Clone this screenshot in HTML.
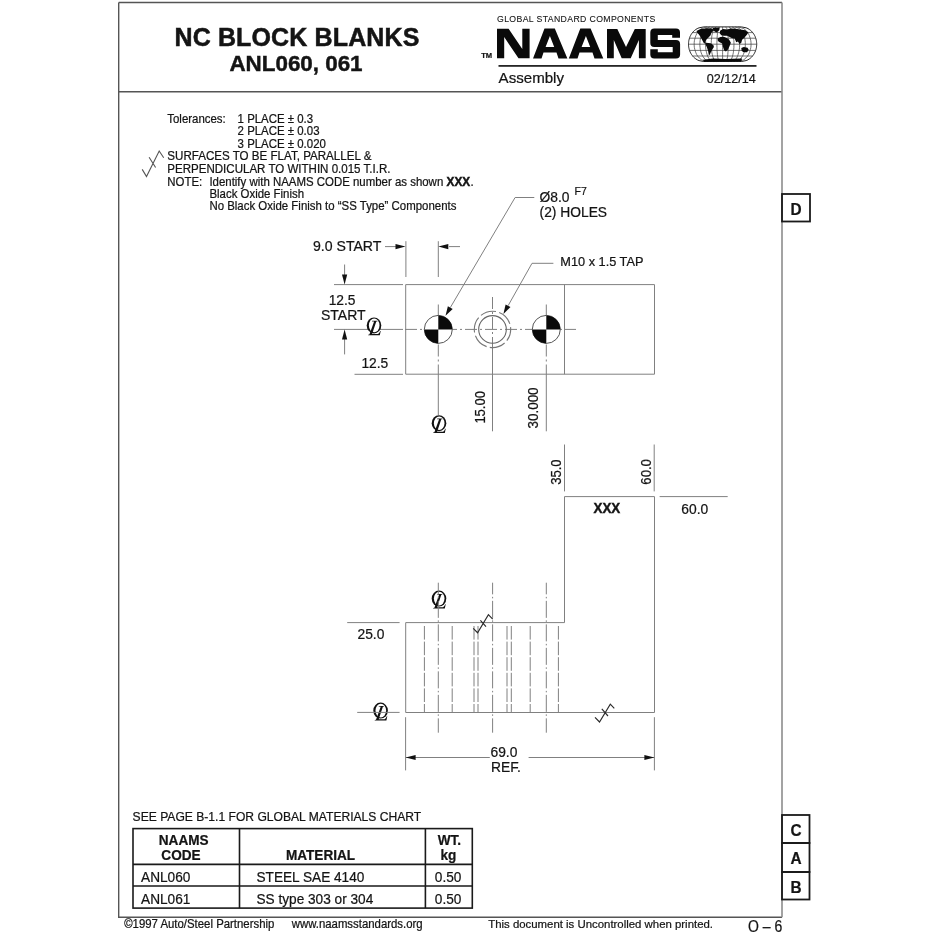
<!DOCTYPE html>
<html><head><meta charset="utf-8">
<style>
html,body{margin:0;padding:0;background:#fff;}
body{width:940px;height:940px;overflow:hidden;}
svg{display:block;will-change:transform;}
text{font-family:"Liberation Sans",sans-serif;fill:#141414;stroke:#141414;stroke-width:0.22px;}
.b{font-weight:bold;}
.ln{stroke:#808080;stroke-width:1;fill:none;}
.fr{stroke:#555;stroke-width:1.4;fill:none;}
.bx{stroke:#1a1a1a;stroke-width:1.8;fill:none;}
.hid{stroke:#808080;stroke-width:1;fill:none;stroke-dasharray:13.6 2;stroke-dashoffset:0;}
.cl{stroke:#808080;stroke-width:1;fill:none;stroke-dasharray:17 2.5 1.5 2.5;stroke-dashoffset:5.35;}
.ser{font-family:"Liberation Serif",serif;font-style:italic;}
</style></head>
<body>
<svg width="940" height="940" viewBox="0 0 940 940">
<!-- frame -->
<path class="fr" d="M118.7,2.5 H782 M118.7,2.5 V917.3 H782 M118.7,91.8 H782"/>
<path d="M782,2.5 V917.3" stroke="#8c8c8c" stroke-width="1.6" fill="none"/>

<!-- title -->
<text class="b" font-size="25" letter-spacing="0.15" text-anchor="middle" style="stroke-width:0.5px" transform="matrix(1 0 0 1.03 297 46.3)">NC BLOCK BLANKS</text>
<text class="b" font-size="22.4" text-anchor="middle" style="stroke-width:0.45px" transform="matrix(1 0 0 1.02 296 70.5)">ANL060, 061</text>

<!-- logo -->
<text x="497" y="22" font-size="8.7" letter-spacing="0.38" style="stroke-width:0.1px">GLOBAL STANDARD COMPONENTS</text>
<g fill="#0a0a0a">
<path d="M497,28.8 H508.6 L522.3,49.1 V28.8 H529.6 V58.3 H518.5 L504.2,37.1 V58.3 H497 Z"/>
<path fill-rule="evenodd" d="M533,58.4 L544.5,28.6 H554.8 L567.4,58.4 H558.5 L556.5,52.6 H543.5 L541.5,58.4 Z M549.9,36 L545.6,47 H554.2 Z"/>
<path fill-rule="evenodd" d="M568.8,58.4 L580.3,28.6 H590.6 L603.3,58.4 H594.5 L592.5,52.6 H579.5 L577.5,58.4 Z M585.9,36 L581.6,47 H590.2 Z"/>
<path d="M607,29 H617.3 L626,47 L634.8,29 H645.7 V58.2 H638.9 V40 L630.7,58.2 H621.7 L613.8,40 V58.2 H607 Z"/>
<path d="M654.5,28.6 H676 Q680,28.6 680,32.6 V37.8 H672.2 V35 H657.8 V39.9 H676 Q680.1,39.9 680.1,44 V54.6 Q680.1,58.6 676,58.6 H654.3 Q650.3,58.6 650.3,54.6 V49.3 H657.8 V52.2 H672.7 V47.1 H654.3 Q650.3,47.1 650.3,43 V32.6 Q650.3,28.6 654.3,28.6 Z"/>
</g>
<text class="b" font-size="7.6" transform="matrix(1 0 0 1.05 481.2 57.9)">TM</text>
<rect x="498.5" y="65" width="258" height="1.8" fill="#262626"/>
<!-- globe -->
<g id="globe">
<path d="M741.4,26.9 L746.1,27.8 L748.0,28.6 L749.4,29.5 L750.6,30.4 L751.5,31.2 L752.3,32.1 L753.0,33.0 L753.6,33.8 L754.2,34.7 L754.6,35.5 L755.1,36.4 L755.4,37.3 L755.7,38.1 L756.0,39.0 L756.2,39.9 L756.4,40.7 L756.5,41.6 L756.6,42.5 L756.7,43.3 L756.7,44.2 L756.7,45.1 L756.6,45.9 L756.5,46.8 L756.4,47.7 L756.2,48.5 L756.0,49.4 L755.7,50.3 L755.4,51.1 L755.1,52.0 L754.6,52.8 L754.2,53.7 L753.6,54.6 L753.0,55.4 L752.3,56.3 L751.5,57.2 L750.6,58.0 L749.4,58.9 L748.0,59.8 L746.1,60.6 L741.4,61.5 L703.8,61.5 L699.1,60.6 L697.2,59.8 L695.8,58.9 L694.6,58.0 L693.7,57.2 L692.9,56.3 L692.2,55.4 L691.6,54.6 L691.0,53.7 L690.6,52.9 L690.1,52.0 L689.8,51.1 L689.5,50.3 L689.2,49.4 L689.0,48.5 L688.8,47.7 L688.7,46.8 L688.6,45.9 L688.5,45.1 L688.5,44.2 L688.5,43.3 L688.6,42.5 L688.7,41.6 L688.8,40.7 L689.0,39.9 L689.2,39.0 L689.5,38.1 L689.8,37.3 L690.1,36.4 L690.6,35.5 L691.0,34.7 L691.6,33.8 L692.2,33.0 L692.9,32.1 L693.7,31.2 L694.6,30.4 L695.8,29.5 L697.2,28.6 L699.1,27.8 L703.8,26.9 Z" fill="#fff" stroke="#222" stroke-width="1"/>
<path d="M692.5,32.6 H752.7 M689.5,38.2 H755.7 M688.5,44.2 H756.7 M689.5,50.4 H755.7 M692.6,56.0 H752.6 M707.0,26.9 L701.4,28.6 L699.3,30.4 L697.8,32.1 L696.7,33.8 L695.9,35.5 L695.3,37.3 L694.8,39.0 L694.4,40.7 L694.2,42.5 L694.2,44.2 L694.2,45.9 L694.4,47.7 L694.8,49.4 L695.3,51.1 L695.9,52.8 L696.7,54.6 L697.8,56.3 L699.3,58.0 L701.4,59.8 L707.0,61.5 M710.1,26.9 L705.6,28.6 L704.0,30.4 L702.8,32.1 L701.9,33.8 L701.2,35.5 L700.7,37.3 L700.3,39.0 L700.1,40.7 L699.9,42.5 L699.9,44.2 L699.9,45.9 L700.1,47.7 L700.3,49.4 L700.7,51.1 L701.2,52.8 L701.9,54.6 L702.8,56.3 L704.0,58.0 L705.6,59.8 L710.1,61.5 M713.2,26.9 L709.9,28.6 L708.6,30.4 L707.7,32.1 L707.1,33.8 L706.6,35.5 L706.2,37.3 L705.9,39.0 L705.7,40.7 L705.6,42.5 L705.6,44.2 L705.6,45.9 L705.7,47.7 L705.9,49.4 L706.2,51.1 L706.6,52.8 L707.1,54.6 L707.7,56.3 L708.6,58.0 L709.9,59.8 L713.2,61.5 M716.3,26.9 L714.1,28.6 L713.3,30.4 L712.7,32.1 L712.3,33.8 L711.9,35.5 L711.7,37.3 L711.5,39.0 L711.3,40.7 L711.3,42.5 L711.2,44.2 L711.3,45.9 L711.3,47.7 L711.5,49.4 L711.7,51.1 L711.9,52.8 L712.3,54.6 L712.7,56.3 L713.3,58.0 L714.1,59.8 L716.3,61.5 M719.5,26.9 L718.4,28.6 L717.9,30.4 L717.6,32.1 L717.4,33.8 L717.3,35.5 L717.1,37.3 L717.0,39.0 L717.0,40.7 L716.9,42.5 L716.9,44.2 L716.9,45.9 L717.0,47.7 L717.0,49.4 L717.1,51.1 L717.3,52.8 L717.4,54.6 L717.6,56.3 L717.9,58.0 L718.4,59.8 L719.5,61.5 M722.6,26.9 L722.6,28.6 L722.6,30.4 L722.6,32.1 L722.6,33.8 L722.6,35.5 L722.6,37.3 L722.6,39.0 L722.6,40.7 L722.6,42.5 L722.6,44.2 L722.6,45.9 L722.6,47.7 L722.6,49.4 L722.6,51.1 L722.6,52.8 L722.6,54.6 L722.6,56.3 L722.6,58.0 L722.6,59.8 L722.6,61.5 M725.7,26.9 L726.8,28.6 L727.3,30.4 L727.6,32.1 L727.8,33.8 L727.9,35.5 L728.1,37.3 L728.2,39.0 L728.2,40.7 L728.3,42.5 L728.3,44.2 L728.3,45.9 L728.2,47.7 L728.2,49.4 L728.1,51.1 L727.9,52.8 L727.8,54.6 L727.6,56.3 L727.3,58.0 L726.8,59.8 L725.7,61.5 M728.9,26.9 L731.1,28.6 L731.9,30.4 L732.5,32.1 L732.9,33.8 L733.3,35.5 L733.5,37.3 L733.7,39.0 L733.9,40.7 L733.9,42.5 L734.0,44.2 L733.9,45.9 L733.9,47.7 L733.7,49.4 L733.5,51.1 L733.3,52.8 L732.9,54.6 L732.5,56.3 L731.9,58.0 L731.1,59.8 L728.9,61.5 M732.0,26.9 L735.3,28.6 L736.6,30.4 L737.5,32.1 L738.1,33.8 L738.6,35.5 L739.0,37.3 L739.3,39.0 L739.5,40.7 L739.6,42.5 L739.6,44.2 L739.6,45.9 L739.5,47.7 L739.3,49.4 L739.0,51.1 L738.6,52.8 L738.1,54.6 L737.5,56.3 L736.6,58.0 L735.3,59.8 L732.0,61.5 M735.1,26.9 L739.6,28.6 L741.2,30.4 L742.4,32.1 L743.3,33.8 L744.0,35.5 L744.5,37.3 L744.9,39.0 L745.1,40.7 L745.3,42.5 L745.3,44.2 L745.3,45.9 L745.1,47.7 L744.9,49.4 L744.5,51.1 L744.0,52.8 L743.3,54.6 L742.4,56.3 L741.2,58.0 L739.6,59.8 L735.1,61.5 M738.2,26.9 L743.8,28.6 L745.9,30.4 L747.4,32.1 L748.5,33.8 L749.3,35.5 L749.9,37.3 L750.4,39.0 L750.8,40.7 L751.0,42.5 L751.0,44.2 L751.0,45.9 L750.8,47.7 L750.4,49.4 L749.9,51.1 L749.3,52.8 L748.5,54.6 L747.4,56.3 L745.9,58.0 L743.8,59.8 L738.2,61.5" fill="none" stroke="#444" stroke-width="0.75"/>
<path d="M696.4,31.1 L700.6,29.1 L707.2,28.2 L712.2,28.6 L713.9,30.3 L711.4,32.8 L710.6,35.3 L708.5,37.4 L706.4,39.4 L705.2,41.9 L706.4,43.7 L703.9,43.2 L702.3,40.3 L700.6,36.9 L698.9,34.4 L697.3,32.8 Z M712.6,27.8 L719.7,27.4 L719.3,30.3 L716.4,32.4 L713.9,31.1 Z M706.0,42.7 L710.6,43.2 L713.5,45.2 L713.9,46.9 L711.4,51.0 L709.7,54.8 L708.9,55.2 L708.1,51.0 L706.8,46.9 L705.6,44.8 Z M720.1,30.7 L723.0,29.1 L727.2,29.5 L730.5,28.5 L735.5,28.8 L740.4,29.5 L745.4,30.3 L748.3,32.4 L747.1,34.4 L745.4,36.5 L743.8,38.2 L742.1,39.8 L741.3,42.7 L739.6,44.0 L737.9,41.5 L736.3,42.3 L734.6,38.6 L732.1,38.2 L729.6,36.9 L727.2,35.7 L723.8,35.7 L721.3,35.3 L719.7,33.2 Z M717.6,38.6 L720.5,36.9 L723.8,36.8 L727.2,38.2 L729.2,39.8 L730.9,42.7 L729.6,46.1 L728.0,49.4 L725.9,51.5 L724.2,50.6 L723.0,46.9 L722.2,43.6 L719.7,42.3 L717.9,41.1 Z M741.3,48.1 L743.8,46.9 L747.5,47.7 L748.7,49.8 L747.1,52.3 L743.8,52.3 L741.7,51.0 Z M703.1,59.8 L713.0,58.5 L725.5,58.9 L742.1,58.5 L741.3,61.4 L703.9,61.7 Z" fill="#0a0a0a"/>
</g>
<text x="498.6" y="83.3" font-size="15.1">Assembly</text>
<text font-size="12.6" text-anchor="end" transform="matrix(1 0 0 1.02 755.7 83.3)">02/12/14</text>

<!-- notes -->
<g font-size="11.45">
<text transform="matrix(1 0 0 1.06 167.3 122.5)">Tolerances:</text>
<text transform="matrix(1 0 0 1.06 237.6 122.5)">1 PLACE ± 0.3</text>
<text transform="matrix(1 0 0 1.06 237.6 135.1)">2 PLACE ± 0.03</text>
<text transform="matrix(1 0 0 1.06 237.6 147.7)">3 PLACE ± 0.020</text>
<text font-size="11.6" transform="matrix(1 0 0 1.06 167.3 160.3)">SURFACES TO BE FLAT, PARALLEL &amp;</text>
<text font-size="11.55" transform="matrix(1 0 0 1.06 167.3 172.9)">PERPENDICULAR TO WITHIN 0.015 T.I.R.</text>
<text transform="matrix(1 0 0 1.06 167.3 185.5)">NOTE:</text>
<text transform="matrix(1 0 0 1.06 209.4 185.5)">Identify with NAAMS CODE number as shown</text>
<text font-size="11.8" style="font-weight:bold;stroke-width:0.45px" transform="matrix(1 0 0 1.06 446.6 185.5)">XXX</text>
<text transform="matrix(1 0 0 1.06 470.6 185.5)">.</text>
<text transform="matrix(1 0 0 1.06 209.4 198)">Black Oxide Finish</text>
<text transform="matrix(1 0 0 1.06 209.4 210.3)">No Black Oxide Finish to “SS Type” Components</text>
</g>
<path fill="none" stroke="#555" stroke-width="1.1" d="M142.2,169.4 L146.5,176.6 L159.2,151 L163.7,157.7 M149.1,157.2 L155.6,167.5"/>

<!-- side boxes -->
<g class="bx">
<rect x="782" y="194" width="28" height="27.5"/>
<rect x="782" y="815" width="27.5" height="28"/>
<rect x="782" y="843" width="27.5" height="29"/>
<rect x="782" y="872" width="27.5" height="27.5"/>
</g>
<g class="b" font-size="15.4" text-anchor="middle" style="stroke-width:0.35px">
<text transform="matrix(1 0 0 1.08 796 214.6)">D</text>
<text transform="matrix(1 0 0 1.02 796 836.4)">C</text>
<text transform="matrix(1 0 0 1.02 796 864.2)">A</text>
<text transform="matrix(1 0 0 1.02 796 892.5)">B</text>
</g>


<!-- ============ TOP VIEW ============ -->
<g class="ln">
<path d="M405.7,284.6 H654.5 V374.2 H405.7 Z M564.5,284.6 V374.2"/>
<!-- extension lines -->
<path d="M405.9,241.2 V277 M438.3,241.2 V277"/>
<path d="M334,284.6 H403 M334,329.4 H403 M354.5,374.3 H403"/>
<path d="M385,246.6 H396 M449,246.6 H460"/>
<path d="M344.6,264.5 V275 M344.6,339 V354.4"/>
<!-- leaders -->
<path d="M534.3,197.5 H515.1 L450.3,307.6"/>
<path d="M553.4,263.3 H532 L508.1,305.7"/>
<!-- center lines below view -->
<path d="M438.3,368 V415 M492.5,346 V431.3 M546.3,368 V431.3"/>
</g>
<!-- dashed centerlines -->
<g class="ln" stroke-dasharray="12 3 2 3">
<path d="M405,329.4 H576"/>
<path d="M438.3,304.5 V368 M546.3,304.5 V368 M492.5,297 V346"/>
</g>
<!-- arrowheads -->
<g fill="#111">
<path d="M405.5,246.6 L395.5,244 V249.2 Z"/>
<path d="M438.3,246.6 L448.3,244 V249.2 Z"/>
<path d="M344.6,284.6 L342,274.6 H347.2 Z"/>
<path d="M344.6,329.4 L342,339.4 H347.2 Z"/>
<path d="M445.5,315.8 L447.9,306.2 L452.7,309.0 Z"/>
<path d="M503.4,314.0 L505.6,304.4 L510.5,307.1 Z"/>
</g>
<!-- holes -->
<g>
<circle cx="438.3" cy="329.4" r="14" fill="#fff" stroke="#555" stroke-width="1"/>
<path d="M438.3,329.4 V315.4 A14,14 0 0 1 452.3,329.4 Z M438.3,329.4 V343.4 A14,14 0 0 1 424.3,329.4 Z" fill="#0a0a0a"/>
<circle cx="546.3" cy="329.4" r="14" fill="#fff" stroke="#555" stroke-width="1"/>
<path d="M546.3,329.4 V315.4 A14,14 0 0 1 560.3,329.4 Z M546.3,329.4 V343.4 A14,14 0 0 1 532.3,329.4 Z" fill="#0a0a0a"/>
<circle cx="492.5" cy="329.4" r="13.8" fill="none" stroke="#666" stroke-width="1.1"/>
<circle cx="492.5" cy="329.4" r="18.2" fill="none" stroke="#777" stroke-width="1.1" stroke-dasharray="16 3.2" stroke-dashoffset="4"/>
</g>

<!-- top view text -->
<g font-size="13.8">
<text x="539.6" y="201.8">Ø8.0</text>
<text x="574.5" y="195.3" font-size="10.5">F7</text>
<text x="539.6" y="217.2">(2) HOLES</text>
<text font-size="12.75" transform="matrix(1 0 0 1.03 560.3 266.4)">M10 x 1.5 TAP</text>
<text x="313" y="250.9" font-size="14.1">9.0 START</text>
<text x="328.7" y="305">12.5</text>
<text x="321" y="319.8" font-size="14">START</text>
<text x="361.4" y="367.6">12.5</text>
<text transform="translate(485.2,423.6) rotate(-90) scale(1,1.08)" font-size="13">15.00</text>
<text transform="translate(537.5,428.4) rotate(-90) scale(1,1.04)" font-size="13.4">30.000</text>
<text transform="translate(561.2,484.7) rotate(-90) scale(1,1.08)" font-size="13">35.0</text>
<text transform="translate(651,484.7) rotate(-90) scale(1,1.08)" font-size="13.2">60.0</text>
<text x="681.3" y="513.8">60.0</text>
<text x="357.5" y="638.7">25.0</text>
<text x="490.5" y="756.9">69.0</text>
<text x="491" y="771.8">REF.</text>
<text class="b" font-size="13.4" style="stroke-width:0.4px" transform="matrix(1 0 0 1.08 593.5 512.7)">XXX</text>
</g>

<!-- CL symbols -->
<g id="cls">
<g transform="translate(374,325.4)"><use href="#clsym"/></g>
<g transform="translate(439,423.2)"><use href="#clsym"/></g>
<g transform="translate(439,598.6)"><use href="#clsym"/></g>
<g transform="translate(380.6,710.6)"><use href="#clsym"/></g>
</g>
<defs>
<g id="clsym">
<ellipse cx="0" cy="0" rx="7.3" ry="8" fill="#111"/>
<ellipse cx="0.2" cy="0" rx="5.3" ry="6.8" fill="#fff"/>
<path d="M-1.8,-4.6 H3.4 L3.3,-4 L2.3,-3.9 L-1.9,8.6 H4 Q5.2,8.3 6.2,5.6 L6.7,5.6 L5.8,9.9 H-5.9 L-5.8,9.3 L-4.6,9.1 L0.1,-3.9 L-1.9,-4 Z" fill="#111"/>
</g>
</defs>

<!-- ============ SIDE VIEW ============ -->
<g class="ln">
<path d="M564.5,622.6 V496.6 H654.5 V712.5 H405.7 V622.6 H564.5"/>
<path d="M564.5,444.5 V491.4 M654.2,444.5 V491.4 M659.6,496.6 H727.7"/>
<path d="M347.2,622.6 H399.6 M357.2,712.4 H399.6"/>
<path d="M405.6,717.2 V770.4 M654.4,717.2 V770.4"/>
<path d="M405.6,757.5 H489.8 M528.6,757.5 H654.4"/>
</g>
<g fill="#111">
<path d="M405.6,757.5 L415.6,754.9 V760.1 Z"/>
<path d="M654.4,757.5 L644.4,754.9 V760.1 Z"/>
</g>
<g class="hid">
<path d="M424.4,626 V712 M452.2,626 V712 M474,626 V712 M478,626 V712 M507,626 V712 M511.3,626 V712 M530.2,626 V712 M558.4,626 V712"/>
</g>
<g class="cl">
<path d="M438.3,582.7 V732.7 M492.6,582.7 V732.7 M546.3,582.7 V732.7"/>
</g>
<g fill="none" stroke="#2a2a2a" stroke-width="1.15">
<path d="M473.2,628.3 L477.6,632.7 L488.4,614.7 L492.7,619.2 M480.4,620.3 L486,626.7"/>
<path d="M595,717.4 L599.5,722 L610.3,704.2 L614.3,708.4 M601.8,708.8 L608,716"/>
</g>

<!-- ============ TABLE ============ -->
<text font-size="12.1" transform="matrix(1 0 0 1.02 132.6 821)">SEE PAGE B-1.1 FOR GLOBAL MATERIALS CHART</text>
<g stroke="#1a1a1a" stroke-width="1.6" fill="none">
<rect x="133" y="828.6" width="339.3" height="79.5"/>
<path d="M239.5,828.6 V908.1 M425.4,828.6 V908.1 M133,864.4 H472.3 M133,886 H472.3"/>
</g>
<g class="b" font-size="13.6" text-anchor="middle" style="stroke-width:0.35px">
<text transform="matrix(1 0 0 1.13 183.7 844.9)">NAAMS</text>
<text transform="matrix(1 0 0 1.13 181 859.8)">CODE</text>
<text transform="matrix(1 0 0 1.13 320.5 859.8)">MATERIAL</text>
<text transform="matrix(1 0 0 1.13 449.4 845)">WT.</text>
<text transform="matrix(1 0 0 1.13 448.4 859.8)">kg</text>
</g>
<g font-size="13.65">
<text transform="matrix(1 0 0 1.13 141.1 882.3)">ANL060</text>
<text transform="matrix(1 0 0 1.13 141.1 904)">ANL061</text>
<text transform="matrix(1 0 0 1.13 256.5 882.3)">STEEL SAE 4140</text>
<text transform="matrix(1 0 0 1.13 256.5 904)">SS type 303 or 304</text>
<text transform="matrix(1 0 0 1.13 434.8 882.3)">0.50</text>
<text transform="matrix(1 0 0 1.13 434.8 904)">0.50</text>
</g>

<!-- footer -->
<g font-size="11.4">
<text transform="matrix(1 0 0 1.05 124.2 927.8)">©1997 Auto/Steel Partnership</text>
<text transform="matrix(1 0 0 1.05 291.7 927.8)">www.naamsstandards.org</text>
<text transform="matrix(1 0 0 1.03 488.2 927.8)">This document is Uncontrolled when printed.</text>
</g>
<text font-size="14" transform="matrix(1 0 0 1.12 748 932.2)">O – 6</text>

</svg>
</body></html>
